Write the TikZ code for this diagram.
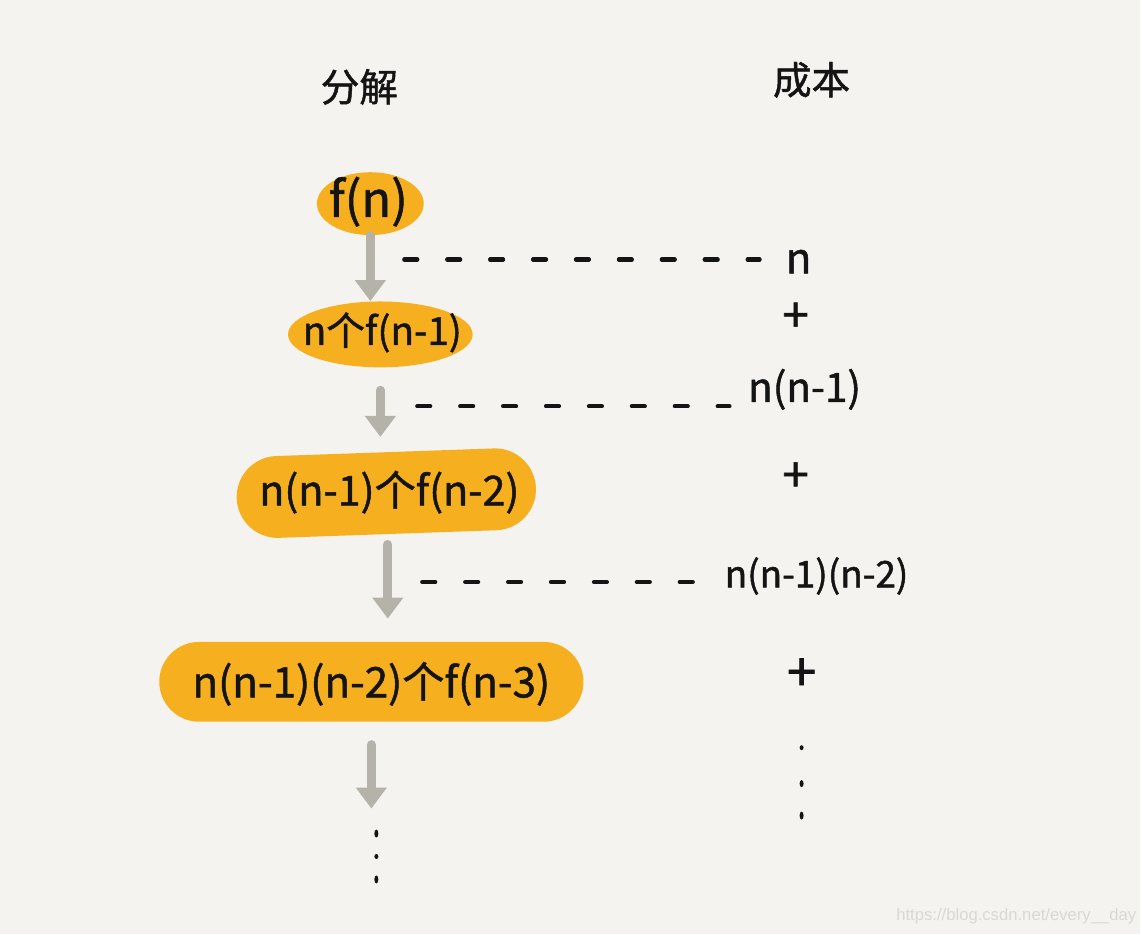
\documentclass[tikz,border=0pt]{standalone}
\usepackage{fontspec}
\setmainfont{Noto Sans CJK SC}
\newfontfamily\inkfont{Noto Sans CJK SC}[FakeBold=1.2]
\newfontfamily\urlfont{Liberation Sans}
\usetikzlibrary{arrows.meta,shapes.geometric,shapes.misc}
\definecolor{paper}{HTML}{F4F3EF}
\definecolor{blobcol}{HTML}{F6B01F}
\definecolor{flowgray}{HTML}{B5B2AA}
\definecolor{inkcol}{HTML}{141414}
\definecolor{markcol}{HTML}{DAD8D3}

\tikzset{
  blob/.style={ellipse, fill=blobcol, inner sep=0pt},
  longblob/.style={rounded rectangle, fill=blobcol, inner sep=0pt},
  term/.style={text=inkcol, font=\inkfont\fontsize{#1}{#1}\selectfont},
  cost/.style={text=inkcol, font=\inkfont\fontsize{#1}{#1}\selectfont},
  heading/.style={text=inkcol, font=\inkfont\fontsize{22}{26}\selectfont},
  flow/.style={draw=flowgray, line width=5pt, line cap=round, -{Triangle[width=17pt,length=12pt]}},
  costdash/.style={draw=inkcol, line width=2.4pt, line cap=round, dash pattern=on 0.26cm off 0.6cm},
}

\begin{document}
\begin{tikzpicture}[x=0.02cm, y=-0.02cm]
    \fill[paper] (0,0) rectangle (1142,936);
    % headings
    \node[heading] (h1) at (360,87) {分解};
    \node[heading] (h2) at (813,80) {成本};
    % decomposition
    \node[blob, minimum width=2.14cm, minimum height=1.26cm] (b0) at (371,204) {};
    \node[blob, minimum width=3.7cm, minimum height=1.32cm] (b1) at (381,335) {};
    \node[longblob, rotate=2, minimum width=6.0cm, minimum height=1.64cm] (b2) at (387,494) {};
    \node[longblob, minimum width=8.5cm, minimum height=1.6cm] (b3) at (372,683) {};
    \node[term=28] (t0) at (369,202) {f(n)};
    \node[term=22] (t1) at (383,333) {n个f(n-1)};
    \node[term=23.5] (t2) at (390,493) {n(n-1)个f(n-2)};
    \node[term=24] (t3) at (372,685) {n(n-1)(n-2)个f(n-3)};
    \coordinate (e4) at (372,810);
    \draw[flow] (b0.south) -- (b0.south |- b1.north);
    \draw[flow, shorten <=0.45cm, shorten >=0.3cm] (b1.south) -- (b1.south |- b2.north);
    \draw[flow, shorten <=0.2cm, shorten >=0.46cm] (b2.south) -- (b2.south |- b3.north);
    \draw[flow, shorten <=0.45cm] (b3.south) -- (e4);
    \fill[inkcol] (377,835) ellipse (0.04cm and 0.08cm);
    \fill[inkcol] (377,858) ellipse (0.04cm and 0.05cm);
    \fill[inkcol] (377,881) ellipse (0.04cm and 0.08cm);
    % cost
    \node[cost=24] (c0) at (800,262) {n};
    \node[cost=27] (p0) at (797,318) {+};
    \node[cost=23] (c1) at (806,390) {n(n-1)};
    \node[cost=27] (p1) at (797,478) {+};
    \node[cost=21] (c2) at (818,577) {n(n-1)(n-2)};
    \node[cost=30] (p2) at (803,676) {+};
    \fill[inkcol] (803,749) ellipse (0.04cm and 0.05cm);
    \fill[inkcol] (803,785) ellipse (0.04cm and 0.07cm);
    \fill[inkcol] (803,817) ellipse (0.04cm and 0.08cm);
    \coordinate (d0) at (405,260);
    \coordinate (d1) at (418,407);
    \coordinate (d2) at (423,583);
    \draw[costdash, shorten >=0.4cm] (d0) -- (d0 -| c0.west);
    \draw[costdash, shorten >=0.25cm] (d1) -- (d1 -| c1.west);
    \draw[costdash] (d2) -- (d2 -| c2.west);
    % watermark
    \node[text=markcol, font=\urlfont\fontsize{9.5}{11}\selectfont] (wm) at (1018,918) {https://blog.csdn.net/every\_\_day};
\end{tikzpicture}
\end{document}
